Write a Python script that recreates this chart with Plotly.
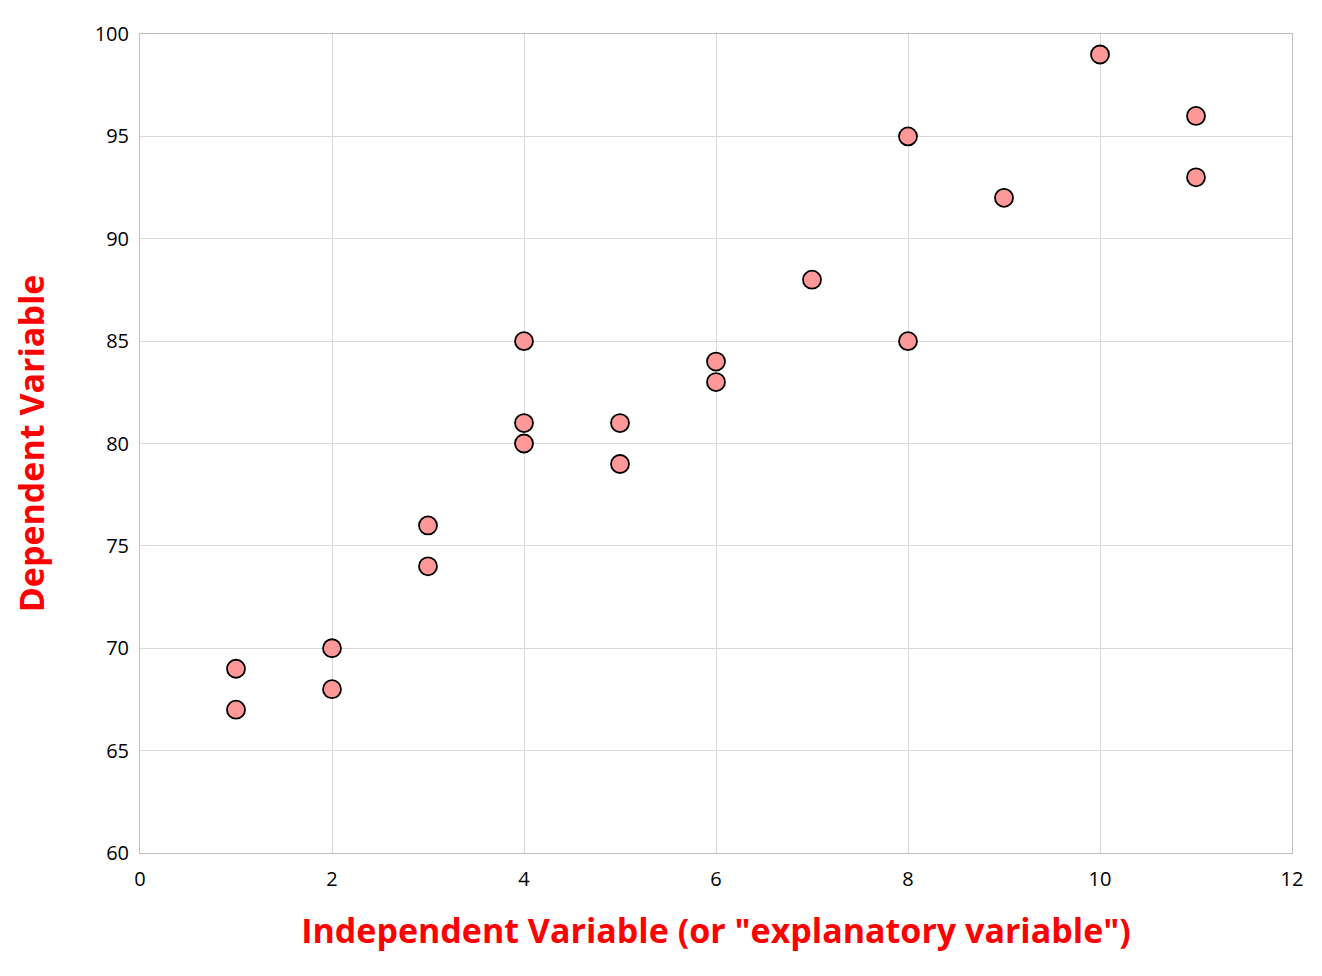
import plotly.graph_objects as go

# data
x_vals = [1, 1, 2, 2, 3, 3, 4, 4, 4, 5, 5, 6, 6, 7, 8, 8, 9, 10, 11, 11]
y_vals = [69, 67, 70, 68, 76, 74, 85, 81, 80, 81, 79, 84, 83, 88, 95, 85, 92, 99, 96, 93]

trace = go.Scatter(x=x_vals, y=y_vals, mode='markers',
                   marker=dict(size=18, color='#FF9999',
                               line=dict(color='black', width=1.8)))

axis_font = dict(family='Open Sans, Liberation Sans', size=20, color='black')
title_font = dict(family='Open Sans, Liberation Sans', size=34, color='red')

layout = go.Layout(
    width=1322, height=976,
    margin=dict(l=132, r=38, t=26, b=131),
    plot_bgcolor='white', paper_bgcolor='white',
    showlegend=False,
    xaxis=dict(range=[0, 12], dtick=2, showgrid=True, gridcolor='#d9d9d9',
               showline=True, linecolor='#bfbfbf', mirror=True, zeroline=False,
               tickfont=axis_font, ticks='', ticklabelstandoff=8,
               title=dict(text='<b>Independent Variable (or "explanatory variable")</b>',
                          font=title_font, standoff=28)),
    yaxis=dict(range=[60, 100], dtick=5, showgrid=True, gridcolor='#d9d9d9',
               showline=True, linecolor='#bfbfbf', mirror=True, zeroline=False,
               tickfont=axis_font, ticks='', ticklabelstandoff=6,
               title=dict(text='<b>Dependent Variable</b>', font=title_font, standoff=40)),
)

fig = go.Figure(data=[trace], layout=layout)
fig.write_html("out.html")
